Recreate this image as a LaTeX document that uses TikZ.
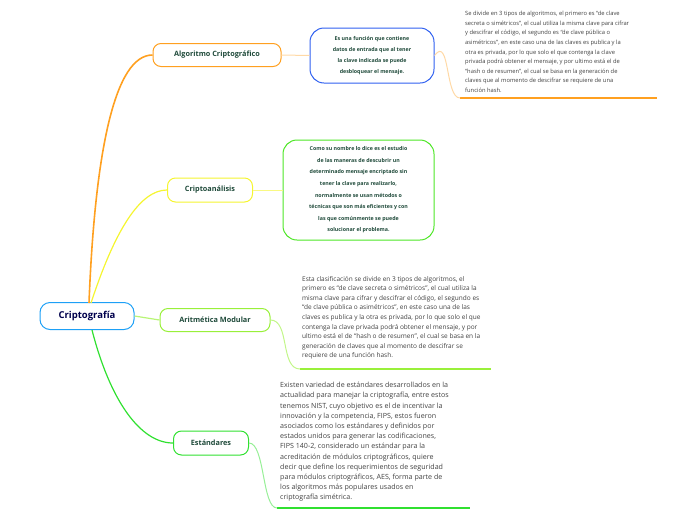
\documentclass[tikz,border=0pt]{standalone}
\usepackage{fontspec}
\setmainfont{Open Sans}
\begin{document}
\begin{tikzpicture}[x=1pt,y=-1pt,
 topic/.style={draw,rounded corners=8pt,line width=1pt,align=center,font=\fontsize{7.3}{8}\selectfont\bfseries,text=textg,inner sep=0pt},
 desc/.style={draw,rounded corners=14pt,line width=1pt,align=center,font=\fontsize{5.3}{11}\selectfont\bfseries,text=textg,inner sep=0pt},
 plain/.style={align=left,anchor=north west,font=\fontsize{5.9}{9.6}\selectfont,text=black!75,inner sep=0pt},
 br/.style={line width=1.2pt}]
\definecolor{textg}{HTML}{1F4A3A}
\definecolor{corange}{HTML}{FFA020}
\definecolor{cyellow}{HTML}{F5F530}
\definecolor{clime}{HTML}{99F03A}
\definecolor{cgreen}{HTML}{30E030}
\definecolor{cblue}{HTML}{3060F0}
\useasboundingbox (0,0) rectangle (696,520);
\node[draw=cblue!60!cyan,line width=1pt,rounded corners=10pt,minimum width=94pt,minimum height=27pt,font=\fontsize{9.5}{11}\selectfont\bfseries,text=blue!30!black] (root) at (87,316) {Criptografía};
\node[topic,draw=corange,minimum width=128pt,minimum height=23pt] (alg) at (217,55) {Algoritmo Criptográfico};
\node[topic,draw=cyellow,minimum width=85pt,minimum height=24pt] (cri) at (210,190) {Criptoanálisis};
\node[topic,draw=clime,minimum width=110pt,minimum height=23pt] (ari) at (215,320) {Aritmética Modular};
\node[topic,draw=cgreen,minimum width=75pt,minimum height=24pt] (est) at (211,443) {Estándares};
\node[desc,draw=cblue,minimum width=124pt,minimum height=55pt] (d1) at (372,55.5) {Es una función que contiene\\datos de entrada que al tener\\la clave indicada se puede\\desbloquear el mensaje.};
\node[desc,draw=cgreen!80!lime,minimum width=151pt,minimum height=100pt,font=\fontsize{5.3}{11.6}\selectfont\bfseries] (d2) at (358.5,190) {Como su nombre lo dice es el estudio\\de las maneras de descubrir un\\determinado mensaje encriptado sin\\tener la clave para realizarlo,\\normalmente se usan métodos o\\técnicas que son más eficientes y con\\las que comúnmente se puede\\solucionar el problema.};
\node[plain,font=\fontsize{5.8}{9.6}\selectfont] (t1) at (465,11) {Se divide en 3 tipos de algoritmos, el primero es ``de clave\\secreta o simétricos'', el cual utiliza la misma clave para cifrar\\y descifrar el código, el segundo es ``de clave pública o\\asimétricos'', en este caso una de las claves es publica y la\\otra es privada, por lo que solo el que contenga la clave\\privada podrá obtener el mensaje, y por ultimo está el de\\``hash o de resumen'', el cual se basa en la generación de\\claves que al momento de descifrar se requiere de una\\función hash.};
\coordinate (u1a) at (460,98); \coordinate (u1b) at (657,98);
\draw[corange,line width=1.2pt] (u1a) -- (u1b);
\node[plain,font=\fontsize{6.5}{9.6}\selectfont] (t3) at (302,276) {Esta clasificación se divide en 3 tipos de algoritmos, el\\primero es ``de clave secreta o simétricos'', el cual utiliza la\\misma clave para cifrar y descifrar el código, el segundo es\\``de clave pública o asimétricos'', en este caso una de las\\claves es publica y la otra es privada, por lo que solo el que\\contenga la clave privada podrá obtener el mensaje, y por\\ultimo está el de ``hash o de resumen'', el cual se basa en la\\generación de claves que al momento de descifrar se\\requiere de una función hash.};
\coordinate (u3a) at (300,369); \coordinate (u3b) at (491,369);
\draw[clime,line width=1.2pt] (u3a) -- (u3b);
\node[plain,font=\fontsize{7.1}{10.2}\selectfont] (t4) at (280,382) {Existen variedad de estándares desarrollados en la\\actualidad para manejar la criptografía, entre estos\\tenemos NIST, cuyo objetivo es el de incentivar la\\innovación y la competencia, FIPS, estos fueron\\asociados como los estándares y definidos por\\estados unidos para generar las codificaciones,\\FIPS 140-2, considerado un estándar para la\\acreditación de módulos criptográficos, quiere\\decir que define los requerimientos de seguridad\\para módulos criptográficos, AES, forma parte de\\los algoritmos más populares usados en\\criptografía simétrica.};
\coordinate (u4a) at (277,508); \coordinate (u4b) at (470,508);
\draw[cgreen,line width=1.2pt] (u4a) -- (u4b);
% branches
\draw[br,corange,line width=1.6pt] (89,303) .. controls (95,150) and (115,55) .. (alg.west);
\draw[br,cyellow] (91,303) .. controls (115,230) and (140,190) .. (cri.west);
\draw[br,clime!70!white] (root.east) -- (ari.west);
\draw[br,cgreen] (92,330) .. controls (110,400) and (140,443) .. (est.west);
\draw[corange!40!white,line width=1pt] (alg.east) -- (d1.west);
\draw[cyellow!60!white,line width=1pt] (cri.east) -- (d2.west);
\draw[corange!40!white,line width=1pt] (d1.east) .. controls (450,35) and (445,98) .. (u1a);
\draw[clime!60!white,line width=1pt] (ari.east) .. controls (290,320) and (280,369) .. (u3a);
\draw[cgreen!50!white,line width=1pt] (est.east) .. controls (265,443) and (262,508) .. (u4a);
\end{tikzpicture}
\end{document}
